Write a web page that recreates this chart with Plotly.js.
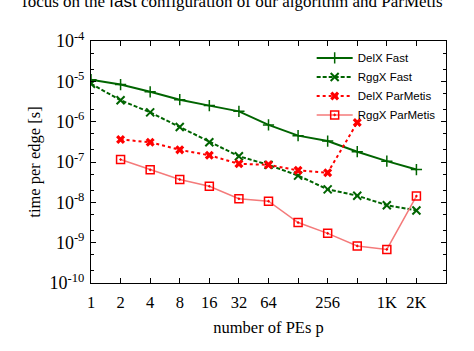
<!DOCTYPE html>
<html>
<head>
<meta charset="utf-8">
<script src="https://cdn.plot.ly/plotly-3.0.1.min.js"></script>
<style>html,body{margin:0;padding:0;background:#fff;}#chart{width:474px;height:351px;}</style>
</head>
<body>
<div id="chart"></div>
<script>
// Data
const pes = [1, 2, 4, 8, 16, 32, 64, 128, 256, 512, 1024, 2048];
const delxFast = [1.1e-5, 8.3e-6, 5.5e-6, 3.5e-6, 2.5e-6, 1.8e-6, 8.3e-7, 4.5e-7, 3.3e-7, 1.8e-7, 1.05e-7, 6.5e-8];
const rggxFast = [8.7e-6, 3.4e-6, 1.7e-6, 7.4e-7, 3.1e-7, 1.39e-7, 8.5e-8, 4.6e-8, 2.1e-8, 1.46e-8, 8.5e-9, 6.3e-9];
const pesDelxPar = [2, 4, 8, 16, 32, 64, 128, 256, 512];
const delxParMetis = [3.6e-7, 3.1e-7, 2.0e-7, 1.47e-7, 9.0e-8, 8.5e-8, 6.2e-8, 5.4e-8, 9.5e-7];
const pesRggxPar = [2, 4, 8, 16, 32, 64, 128, 256, 512, 1024, 2048];
const rggxParMetis = [1.15e-7, 6.4e-8, 3.7e-8, 2.5e-8, 1.23e-8, 1.07e-8, 3.15e-9, 1.7e-9, 8.3e-10, 6.8e-10, 1.43e-8];
const xTickVals = [1, 2, 4, 8, 16, 32, 64, 128, 256, 512, 1024, 2048, 4096];
const xTickText = ['1', '2', '4', '8', '16', '32', '64', '', '256', '', '1K', '2K', ''];
const yTickVals = [1e-10, 1e-9, 1e-8, 1e-7, 1e-6, 1e-5, 1e-4];
const yTickText = ['10<sup>-10</sup>', '10<sup>-9</sup>', '10<sup>-8</sup>', '10<sup>-7</sup>', '10<sup>-6</sup>', '10<sup>-5</sup>', '10<sup>-4</sup>'];

const green = '#006400';
const red = '#ff0000';
const serif = 'Liberation Serif, Times New Roman, serif';
const sans = 'Liberation Sans, Arial, sans-serif';

const traces = [
  {x: pes, y: delxFast, name: 'DelX Fast', mode: 'lines+markers',
   line: {color: green, width: 2}, marker: {symbol: 'cross-thin-open', size: 8, color: green, line: {color: green, width: 1.5}}},
  {x: pes, y: rggxFast, name: 'RggX Fast', mode: 'lines+markers',
   line: {color: green, width: 2, dash: '4px,2px'}, marker: {symbol: 'x-thin-open', size: 8, color: green, line: {color: green, width: 2}}},
  {x: pesDelxPar, y: delxParMetis, name: 'DelX ParMetis', mode: 'lines+markers',
   line: {color: red, width: 2, dash: 'dot'}, marker: {symbol: 'x', size: 8, color: red, line: {width: 0}}},
  {x: pesRggxPar, y: rggxParMetis, name: 'RggX ParMetis', mode: 'lines+markers',
   line: {color: '#f47a7a', width: 1.5}, marker: {symbol: 'square-open-dot', size: 8, color: red, line: {color: red, width: 1.5}}}
];

const layout = {
  width: 474, height: 351,
  margin: {l: 91, r: 28, t: 41, b: 68},
  paper_bgcolor: '#fff', plot_bgcolor: '#fff',
  showlegend: true,
  legend: {x: 0.985, xanchor: 'right', y: 0.99, yanchor: 'top', bgcolor: 'rgba(0,0,0,0)',
           font: {family: sans, size: 11.5, color: '#000'}, tracegroupgap: 0, itemwidth: 36},
  xaxis: {type: 'log', range: [0, Math.log10(4096)], tickmode: 'array', tickvals: xTickVals, ticktext: xTickText,
          ticks: 'inside', ticklen: 5, tickcolor: '#000', showline: true, linecolor: '#000', linewidth: 1, mirror: 'ticks',
          showgrid: false, zeroline: false, tickfont: {family: serif, size: 16.5, color: '#000'}, ticklabelstandoff: 4,
          title: {text: 'number of PEs p', font: {family: serif, size: 16.5, color: '#000'}, standoff: 10}},
  yaxis: {type: 'log', range: [-10, -4], tickmode: 'array', tickvals: yTickVals, ticktext: yTickText,
          ticks: 'inside', ticklen: 5, tickcolor: '#000', showline: true, linecolor: '#000', linewidth: 1, mirror: 'ticks',
          showgrid: false, zeroline: false, tickfont: {family: serif, size: 18, color: '#000'}, ticklabelstandoff: 2,
          minor: {tickmode: 'array', tickvals: [2e-10,5e-10,2e-9,5e-9,2e-8,5e-8,2e-7,5e-7,2e-6,5e-6,2e-5,5e-5], ticks: 'inside', ticklen: 3, tickcolor: '#000', showgrid: false},
          title: {text: 'time per edge [s]', font: {family: serif, size: 16.5, color: '#000'}, standoff: 4}},
  annotations: [
    {xref: 'paper', yref: 'paper', x: -0.2, y: 1.115, xanchor: 'left', yanchor: 'bottom', showarrow: false,
     text: 'focus on the <span style="font-family:Liberation Sans">fast</span> configuration of our algorithm and ParMetis',
     font: {family: serif, size: 17, color: '#000'}}
  ]
};

Plotly.newPlot('chart', traces, layout, {displayModeBar: false, staticPlot: true});
</script>
</body>
</html>
